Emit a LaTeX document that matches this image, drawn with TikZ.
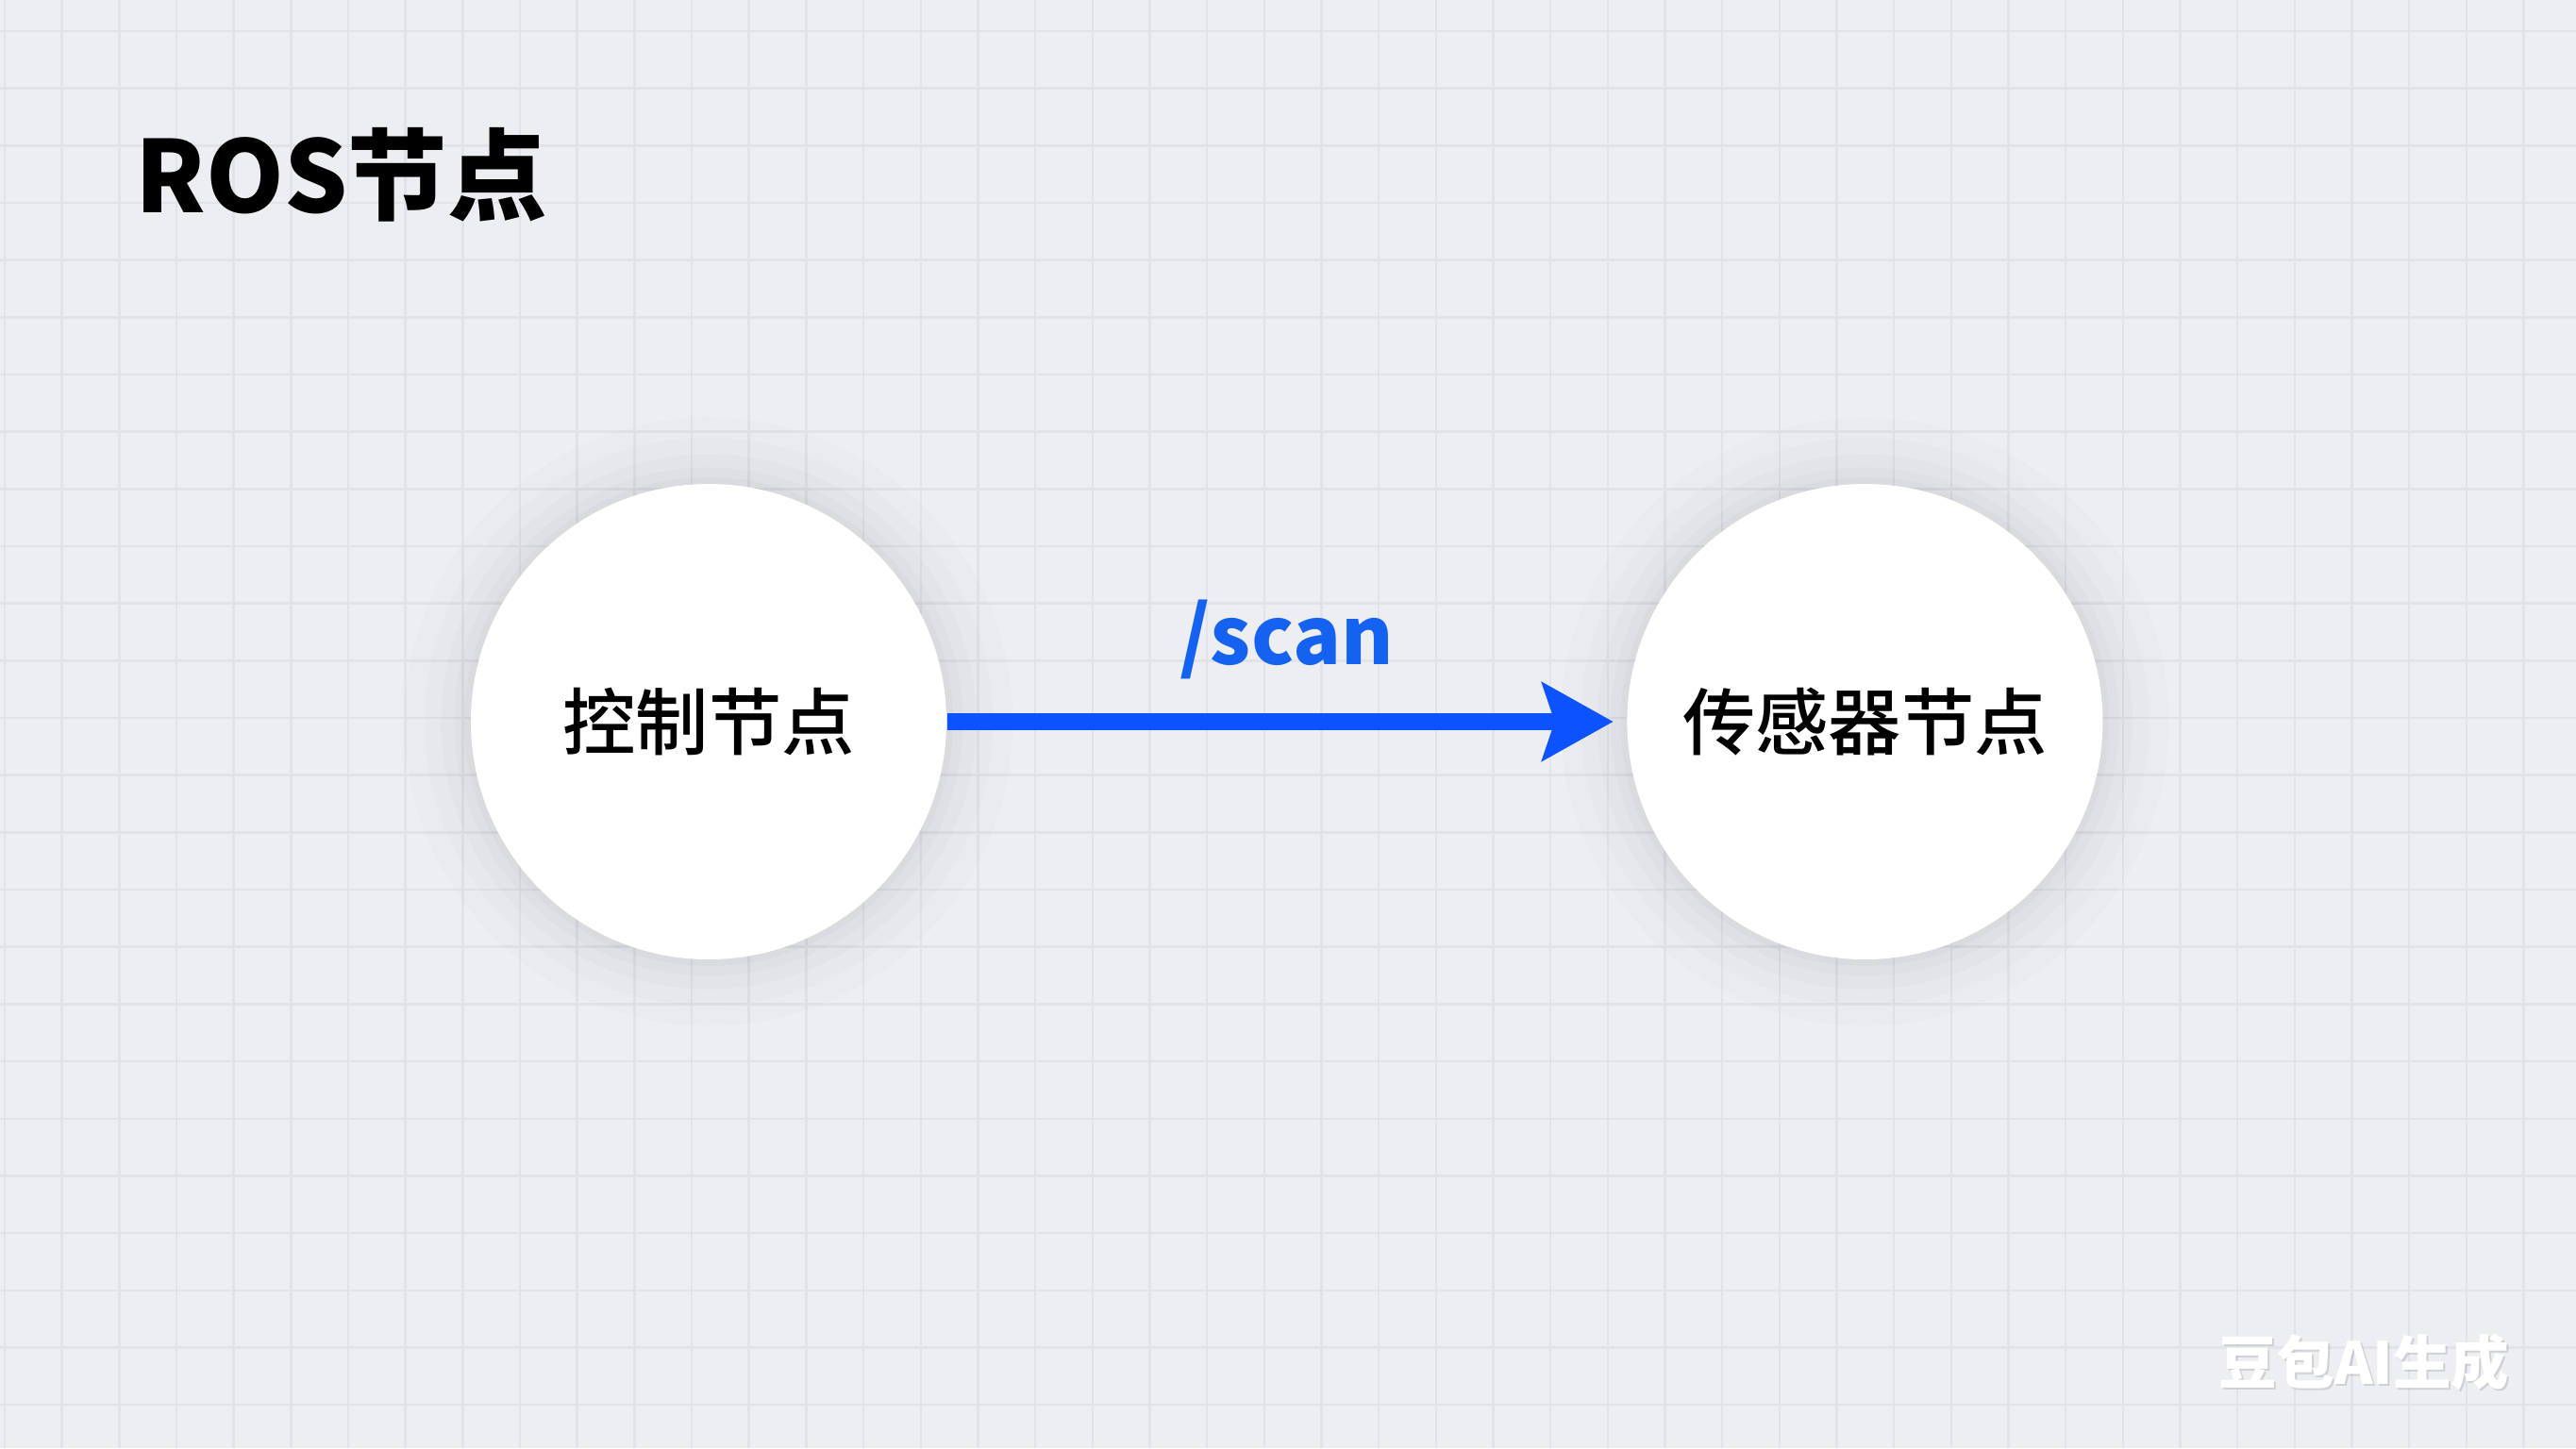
\documentclass[tikz,border=0pt]{standalone}
\usepackage{fontspec}
\setmainfont{Noto Sans CJK SC}
\newfontfamily\cjkmedium{Noto Sans CJK SC Medium}
\usepackage{tikz}
\usetikzlibrary{arrows.meta,positioning}
\definecolor{BgGray}{RGB}{236,238,242}
\definecolor{GridGray}{RGB}{224,227,232}
\definecolor{TopicBlue}{RGB}{12,82,255}
\definecolor{LabelBlue}{RGB}{22,98,240}

\begin{document}
\begin{tikzpicture}[
node distance=7.2cm,
nodecircle/.style={
circle,
fill=white,
minimum size=5.04cm,
inner sep=0pt,
font=\cjkmedium\fontsize{22}{26}\selectfont,
preaction={draw=black,draw opacity=0.010,line width=40pt},
preaction={draw=black,draw opacity=0.012,line width=28pt},
preaction={draw=black,draw opacity=0.014,line width=18pt},
preaction={draw=black,draw opacity=0.016,line width=10pt},
preaction={draw=black,draw opacity=0.02,line width=4pt}
},
arrow/.style={-{Stealth[length=7.5mm,width=8.2mm,inset=1.3mm]},line width=0.18cm,TopicBlue},
title/.style={font=\bfseries\fontsize{30}{36}\selectfont,anchor=base west,inner sep=0pt},
wmark/.style={font=\bfseries\fontsize{17.5}{20}\selectfont,anchor=base east,inner sep=0pt}
]
% background with grid
\fill[BgGray] (0,0) rectangle (27.30,15.35);
\begin{scope}
\clip (0,0) rectangle (27.30,15.35);
\foreach \i in {0,...,45}
\draw[GridGray,line width=0.7pt] (0.05+0.6067*\i,0) -- ++(0,15.35);
\foreach \j in {0,...,25}
\draw[GridGray,line width=0.7pt] (0,15.02-0.6067*\j) -- ++(27.30,0);
\end{scope}
\useasboundingbox (0,0) rectangle (27.30,15.35);

\node[title] (heading) at (1.43,13.09) {ROS节点};

\node[nodecircle] (ctrl) at (7.51,7.70) {控制节点};
\node[nodecircle,right=of ctrl] (sensor) {传感器节点};

\draw[arrow,shorten >=0.14cm] (ctrl.east) -- node[anchor=base,yshift=0.6cm,
font=\bfseries\fontsize{24}{28}\selectfont,text=LabelBlue] (topic) {/scan} (sensor.west);

% watermark
\node[wmark,text=black,opacity=0.12] (markshade) at (26.62,0.66) {豆包AI生成};
\node[wmark,text=white] (watermark) at (26.60,0.68) {豆包AI生成};
\end{tikzpicture}
\end{document}
